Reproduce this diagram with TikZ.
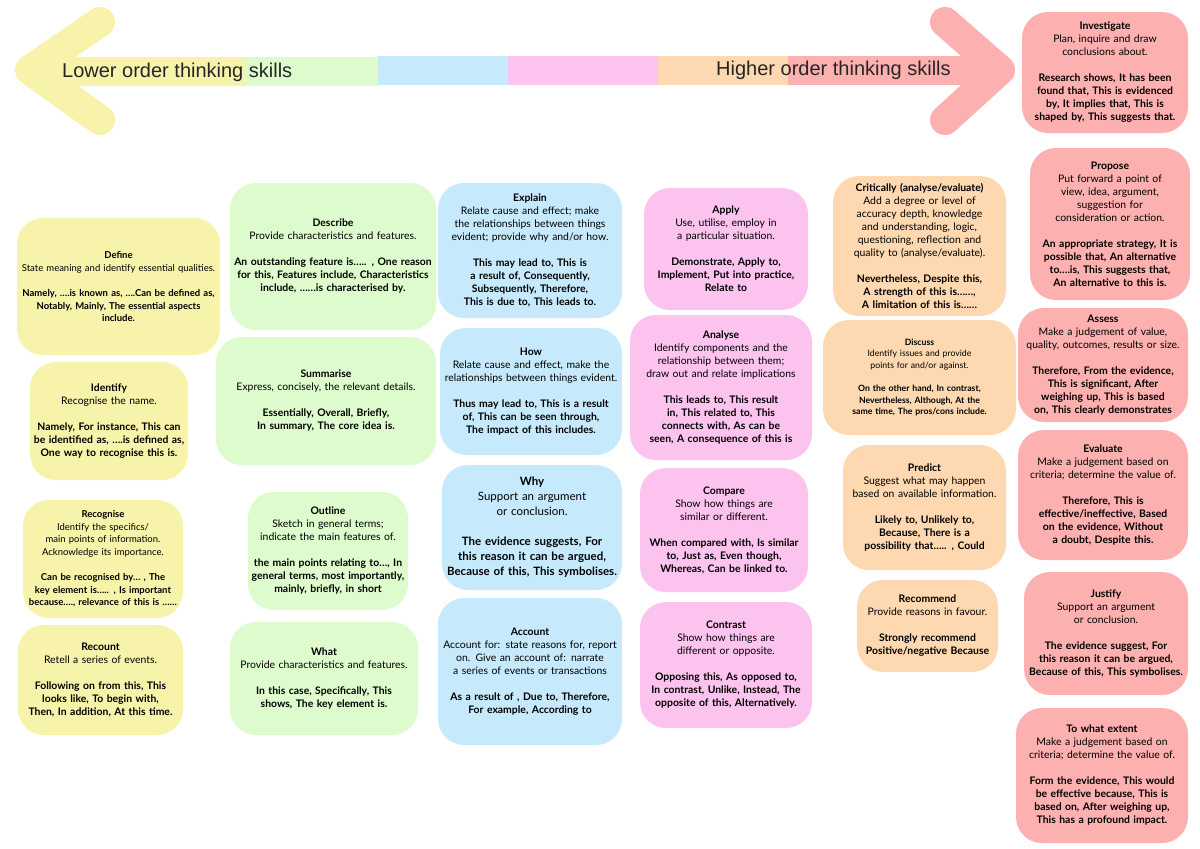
\documentclass[tikz,border=0pt]{standalone}
\usepackage{fontspec}
\setmainfont{Lato}
\newfontfamily\arrowfont{Liberation Sans}
\definecolor{cy}{HTML}{F8F3AA}
\definecolor{cg}{HTML}{DDFBCC}
\definecolor{cb}{HTML}{C6EAFB}
\definecolor{cp}{HTML}{FCC3EF}
\definecolor{co}{HTML}{FDD8B0}
\definecolor{cr}{HTML}{FDB0B0}
\newcommand{\bl}{\\[13bp]}
\newcommand{\nohy}{\hyphenpenalty=10000\exhyphenpenalty=10000\relax}
\tikzset{
  box/.style={rounded corners=26bp, align=center, inner sep=1bp, text=black,
    font=\fontsize{10.4bp}{13bp}\selectfont\nohy},
  small/.style={font=\fontsize{9.5bp}{12.5bp}\selectfont\nohy},
  tiny/.style={font=\fontsize{8.7bp}{11.5bp}\selectfont\nohy},
  chev/.style={line width=30bp, line cap=round, line join=round},
  lbl/.style={font=\arrowfont\fontsize{20bp}{24bp}\selectfont, text=black!85, inner sep=0},
}
\newcommand{\bx}[8]{% name, color, x1,y1,x2,y2, extra, text
  \path[box,fill=#2,#7] (#3,#4) rectangle (#5,#6);
  \node[box,#7,text width={#5-#3-6bp}] (#1) at ({(#3+#5)/2},{(#4+#6)/2}) {#8};}
\begin{document}
\begin{tikzpicture}[x=1bp,y=-1bp]
\useasboundingbox (0,0) rectangle (1200,849);
% arrow
\coordinate (lt) at (100,22); \coordinate (lm) at (30,70); \coordinate (lb) at (100,120);
\draw[chev,cy] (lt) -- (lm) -- (lb);
\coordinate (rt) at (945,22); \coordinate (rm) at (1000,70); \coordinate (rb) at (945,120);
\draw[chev,cr] (rt) -- (rm) -- (rb);
\fill[cy] (30,57) rectangle (246,86);
\fill[cg] (246,57) rectangle (378,86);
\fill[cb] (378,56) rectangle (508,85);
\fill[cp] (508,56) rectangle (658,85);
\fill[co] (658,56) rectangle (788,85);
\fill[cr] (788,56) rectangle (1000,85);
\node[lbl,anchor=west] (lo) at (62,72) {Lower order thinking skills};
\node[lbl,anchor=west] (hi) at (716,70) {Higher order thinking skills};
% column 1
\bx{define}{cy}{17}{218}{220}{355}{small}{\textbf{Define}\\State meaning and identify essential qualities.\bl\textbf{Namely, ….is known as, ….Can be defined as,}\\\textbf{Notably, Mainly, The essential aspects}\\\textbf{include.}}
\bx{identify}{cy}{30}{362}{188}{480}{}{\textbf{Identify}\\Recognise the name.\bl\textbf{Namely, For instance, This can be identified as, ….is defined as, One way to recognise this is.}}
\bx{recognise}{cy}{23}{500}{183}{618}{small}{\textbf{Recognise}\\Identify the specifics/ main points of information. Acknowledge its importance.\bl\textbf{Can be recognised by… , The key element is….. , Is important because…., relevance of this is ……}}
\bx{recount}{cy}{18}{625}{183}{735}{}{\textbf{Recount}\\Retell a series of events.\bl\textbf{Following on from this, This looks like, To begin with, Then, In addition, At this time.}}
% column 2
\bx{describe}{cg}{230}{183}{436}{330}{}{\textbf{Describe}\\Provide characteristics and features.\bl\textbf{An outstanding feature is….. , One reason for this, Features include, Characteristics include, ……is characterised by.}}
\bx{summarise}{cg}{216}{337}{436}{465}{}{\textbf{Summarise}\\Express, concisely, the relevant details.\bl\textbf{Essentially, Overall, Briefly, In summary, The core idea is.}}
\bx{outline}{cg}{248}{492}{408}{610}{}{\textbf{Outline}\\Sketch in general terms; indicate the main features of.\bl\textbf{the main points relating to…, In general terms, most importantly, mainly, briefly, in short}}
\bx{what}{cg}{230}{622}{418}{735}{}{\textbf{What}\\Provide characteristics and features.\bl\textbf{In this case, Specifically, This shows, The key element is.}}
% column 3
\bx{explain}{cb}{438}{183}{622}{318}{}{\textbf{Explain}\\Relate cause and effect; make the relationships between things evident; provide why and/or how.\bl\textbf{This may lead to, This is a result of, Consequently, Subsequently, Therefore, This is due to, This leads to.}}
\bx{how}{cb}{440}{328}{622}{455}{}{\textbf{How}\\Relate cause and effect, make the relationships between things evident.\bl\textbf{Thus may lead to, This is a result of, This can be seen through, The impact of this includes.}}
\bx{why}{cb}{442}{465}{622}{590}{font=\fontsize{11.5bp}{15bp}\selectfont\nohy}{\textbf{Why}\\Support an argument or conclusion.\\[15bp]\textbf{The evidence suggests, For this reason it can be argued, Because of this, This symbolises.}}
\bx{account}{cb}{438}{598}{622}{745}{}{\textbf{Account}\\Account for: state reasons for, report on. Give an account of: narrate a series of events or transactions\bl\textbf{As a result of , Due to, Therefore, For example, According to}}
% column 4
\bx{apply}{cp}{644}{188}{808}{310}{}{\textbf{Apply}\\Use, utilise, employ in a particular situation.\bl\textbf{Demonstrate, Apply to, Implement, Put into practice,}\\\textbf{Relate to}}
\bx{analyse}{cp}{630}{315}{812}{460}{}{\textbf{Analyse}\\Identify components and the relationship between them; draw out and relate implications\bl\textbf{This leads to, This result in, This related to, This connects with, As can be seen, A consequence of this is}}
\bx{compare}{cp}{640}{468}{808}{592}{}{\textbf{Compare}\\Show how things are similar or different.\bl\textbf{When compared with, Is similar to, Just as, Even though, Whereas, Can be linked to.}}
\bx{contrast}{cp}{640}{602}{812}{728}{}{\textbf{Contrast}\\Show how things are different or opposite.\bl\textbf{Opposing this, As opposed to, In contrast, Unlike, Instead, The opposite of this, Alternatively.}}
% column 5
\bx{critically}{co}{833}{176}{1006}{316}{}{\textbf{Critically (analyse/evaluate)}\\Add a degree or level of accuracy depth, knowledge and understanding, logic, questioning, reflection and quality to (analyse/evaluate).\bl\textbf{Nevertheless, Despite this, A strength of this is……, A limitation of this is……}}
\bx{discuss}{co}{823}{320}{1016}{435}{tiny}{\textbf{Discuss}\\Identify issues and provide points for and/or against.\\[11.5bp]\textbf{On the other hand, In contrast, Nevertheless, Although, At the same time, The pros/cons include.}}
\bx{predict}{co}{843}{445}{1006}{570}{}{\textbf{Predict}\\Suggest what may happen based on available information.\bl\textbf{Likely to, Unlikely to, Because, There is a possibility that….. , Could}}
\bx{recommend}{co}{857}{580}{998}{672}{}{\textbf{Recommend}\\Provide reasons in favour.\bl\textbf{Strongly recommend Positive/negative Because}}
% column 6
\bx{investigate}{cr}{1022}{12}{1188}{133}{}{\textbf{Investigate}\\Plan, inquire and draw conclusions about.\bl\textbf{Research shows, It has been found that, This is evidenced by, It implies that, This is shaped by, This suggests that.}}
\bx{propose}{cr}{1030}{148}{1190}{300}{}{\textbf{Propose}\\Put forward a point of view, idea, argument,\\suggestion for consideration or action.\bl\textbf{An appropriate strategy, It is possible that, An alternative to….is, This suggests that, An alternative to this is.}\\[8bp]}
\bx{assess}{cr}{1018}{308}{1188}{422}{}{\textbf{Assess}\\Make a judgement of value, quality, outcomes, results or size.\bl\textbf{Therefore, From the evidence, This is significant, After weighing up, This is based on, This clearly demonstrates}}
\bx{evaluate}{cr}{1018}{430}{1188}{560}{}{\textbf{Evaluate}\\Make a judgement based on criteria; determine the value of.\bl\textbf{Therefore, This is effective/ineffective, Based on the evidence, Without a doubt, Despite this.}}
\bx{justify}{cr}{1024}{572}{1188}{695}{}{\textbf{Justify}\\Support an argument or conclusion.\bl\textbf{The evidence suggest, For this reason it can be argued, Because of this, This symbolises.}}
\bx{extent}{cr}{1016}{708}{1188}{843}{}{\textbf{To what extent}\\Make a judgement based on criteria; determine the value of.\bl\textbf{Form the evidence, This would be effective because, This is based on, After weighing up, This has a profound impact.}}
\end{tikzpicture}
\end{document}
